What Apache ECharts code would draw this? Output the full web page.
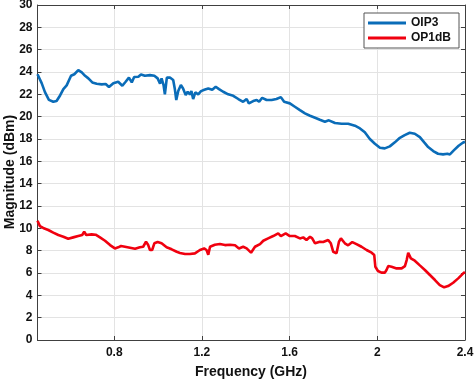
<!DOCTYPE html>
<html>
<head>
<meta charset="utf-8">
<script src="https://cdn.jsdelivr.net/npm/echarts@6/dist/echarts.min.js"></script>
<style>html,body{margin:0;padding:0;background:#fff}#c{width:474px;height:381px}</style>
</head>
<body>
<div id="c"></div>
<script>
const xTicks = [0.8, 1.2, 1.6, 2.0, 2.4];
const xTitle = 'Frequency (GHz)';
const yTitle = 'Magnitude (dBm)';
const freqOIP3 = [0.45,0.469,0.484,0.502,0.522,0.537,0.553,0.568,0.583,0.603,0.618,0.636,0.652,0.667,0.682,0.70,0.72,0.743,0.761,0.776,0.796,0.818,0.837,0.852,0.867,0.88,0.891,0.91,0.922,0.94,0.963,0.983,0.998,1.009,1.016,1.025,1.031,1.04,1.054,1.069,1.076,1.083,1.092,1.104,1.114,1.126,1.135,1.145,1.152,1.16,1.17,1.183,1.196,1.211,1.229,1.247,1.263,1.278,1.297,1.32,1.343,1.366,1.388,1.404,1.414,1.434,1.45,1.461,1.475,1.495,1.518,1.54,1.56,1.575,1.601,1.624,1.647,1.67,1.693,1.716,1.738,1.761,1.779,1.807,1.837,1.867,1.898,1.921,1.943,1.966,1.989,2.012,2.034,2.057,2.08,2.103,2.125,2.148,2.171,2.194,2.214,2.232,2.255,2.277,2.30,2.32,2.331,2.35,2.371,2.39,2.40];
const oip3 = [23.8,23.0,22.2,21.5,21.33,21.4,21.9,22.47,22.8,23.66,23.8,24.17,23.96,23.66,23.43,23.07,22.95,22.89,22.92,22.65,23.0,23.13,22.77,23.13,23.5,23.07,23.55,23.58,23.78,23.66,23.72,23.66,23.43,22.95,23.43,22.83,22.0,23.5,23.5,23.28,22.53,21.49,22.3,22.83,22.53,21.93,22.23,22.0,22.29,21.58,22.17,22.0,22.29,22.41,22.53,22.41,22.68,22.47,22.23,22.0,21.87,21.58,21.33,21.58,21.19,21.4,21.49,21.33,21.69,21.49,21.49,21.58,21.75,21.33,21.19,20.89,20.59,20.3,20.08,19.9,19.72,19.55,19.67,19.43,19.37,19.37,19.19,18.95,18.6,18.0,17.58,17.22,17.16,17.34,17.7,18.11,18.35,18.56,18.47,18.17,17.7,17.28,16.92,16.68,16.62,16.68,16.62,17.0,17.39,17.66,17.75];
const freqOP1dB = [0.45,0.461,0.476,0.499,0.522,0.545,0.568,0.59,0.613,0.636,0.654,0.663,0.672,0.697,0.715,0.735,0.758,0.781,0.803,0.818,0.831,0.849,0.872,0.895,0.917,0.932,0.945,0.955,0.963,0.973,0.983,0.998,1.016,1.039,1.062,1.085,1.10,1.123,1.145,1.168,1.191,1.21,1.221,1.229,1.237,1.259,1.282,1.305,1.328,1.351,1.369,1.388,1.404,1.424,1.442,1.465,1.48,1.502,1.525,1.548,1.56,1.582,1.601,1.624,1.647,1.662,1.677,1.693,1.703,1.716,1.738,1.753,1.776,1.788,1.799,1.814,1.825,1.834,1.852,1.867,1.886,1.905,1.928,1.951,1.974,1.986,1.991,2.003,2.019,2.034,2.042,2.05,2.065,2.088,2.111,2.126,2.134,2.141,2.153,2.171,2.194,2.217,2.24,2.263,2.285,2.305,2.323,2.346,2.369,2.392,2.40];
const op1db = [10.68,10.2,10.03,9.85,9.61,9.4,9.25,9.07,9.19,9.31,9.4,9.7,9.4,9.46,9.43,9.19,8.89,8.5,8.2,8.3,8.42,8.35,8.26,8.17,8.3,8.35,8.8,8.5,8.06,8.06,8.66,8.77,8.66,8.3,8.12,7.9,7.8,7.7,7.7,7.76,8.06,8.2,8.06,7.64,8.35,8.53,8.59,8.5,8.53,8.48,8.2,8.35,8.2,7.82,8.35,8.59,8.89,9.1,9.31,9.55,9.31,9.55,9.31,9.31,9.1,9.19,8.95,9.25,9.1,8.66,8.8,8.77,8.95,8.66,7.9,7.76,8.8,9.1,8.66,8.48,8.77,8.59,8.35,8.06,7.82,7.61,6.56,6.18,6.03,6.03,6.27,6.62,6.56,6.41,6.41,6.62,7.16,7.82,7.31,7.1,6.68,6.27,5.82,5.37,4.92,4.72,4.83,5.13,5.52,5.97,6.1];

const zip = (xs, ys) => xs.map((x, i) => [x, ys[i]]);
const FONT = 'Liberation Sans, Arial, sans-serif';
const axisCol = '#404040';
const gridCol = '#e3e3e3';

const chart = echarts.init(document.getElementById('c'), null, {renderer: 'canvas'});
chart.setOption({
  animation: false,
  grid: {left: 37.5, right: 9, top: 5, bottom: 41, containLabel: false, outerBoundsMode: 'none'},
  graphic: [{
    type: 'text', x: 251, y: 372,
    style: {text: xTitle, font: 'bold 14px ' + FONT, fill: '#111', textAlign: 'center', textVerticalAlign: 'middle'}
  }, {
    type: 'text', x: 10, y: 172, rotation: Math.PI / 2,
    style: {text: yTitle, font: 'bold 14px ' + FONT, fill: '#111', textAlign: 'center', textVerticalAlign: 'middle'}
  }],
  legend: {
    orient: 'vertical', left: 364, top: 13,
    padding: [4, 8, 4, 4], itemGap: 3,
    backgroundColor: '#fff', borderColor: '#555', borderWidth: 1,
    icon: 'rect', itemWidth: 38, itemHeight: 3,
    textStyle: {fontFamily: FONT, fontWeight: 'bold', fontSize: 12, color: '#111'},
    data: ['OIP3', 'OP1dB']
  },
  xAxis: [{
    type: 'value', min: 0.45, max: 2.4,
    axisLine: {show: true, onZero: false, lineStyle: {color: axisCol, width: 1}},
    axisTick: {show: true, inside: true, length: 4, customValues: xTicks, lineStyle: {color: axisCol}},
    axisLabel: {customValues: xTicks, fontFamily: FONT, fontWeight: 'bold', fontSize: 12, color: '#111', margin: 7,
      formatter: v => String(Math.round(v * 10) / 10)},
    splitLine: {show: true, lineStyle: {color: gridCol, width: 1}}
  }, {
    type: 'value', min: 0.45, max: 2.4, position: 'top',
    axisLine: {show: true, onZero: false, lineStyle: {color: axisCol, width: 1}},
    axisTick: {show: true, inside: true, length: 4, customValues: xTicks, lineStyle: {color: axisCol}},
    axisLabel: {show: false},
    splitLine: {show: false}
  }],
  yAxis: [{
    type: 'value', min: 0, max: 30, interval: 2,
    axisLine: {show: true, onZero: false, lineStyle: {color: axisCol, width: 1}},
    axisTick: {show: true, inside: true, length: 4, lineStyle: {color: axisCol}},
    axisLabel: {fontFamily: FONT, fontWeight: 'bold', fontSize: 12, color: '#111', margin: 5},
    splitLine: {show: true, lineStyle: {color: gridCol, width: 1}}
  }, {
    type: 'value', min: 0, max: 30, interval: 2, position: 'right',
    axisLine: {show: true, onZero: false, lineStyle: {color: axisCol, width: 1}},
    axisTick: {show: true, inside: true, length: 4, lineStyle: {color: axisCol}},
    axisLabel: {show: false},
    splitLine: {show: false}
  }],
  series: [{
    name: 'OIP3', type: 'line', xAxisIndex: 0, yAxisIndex: 0,
    data: zip(freqOIP3, oip3), showSymbol: false, symbol: 'none',
    lineStyle: {color: '#0A6CB8', width: 2.6}, itemStyle: {color: '#0A6CB8'}
  }, {
    name: 'OP1dB', type: 'line', xAxisIndex: 0, yAxisIndex: 0,
    data: zip(freqOP1dB, op1db), showSymbol: false, symbol: 'none',
    lineStyle: {color: '#F0000F', width: 2.6}, itemStyle: {color: '#F0000F'}
  }]
});
</script>
</body>
</html>
